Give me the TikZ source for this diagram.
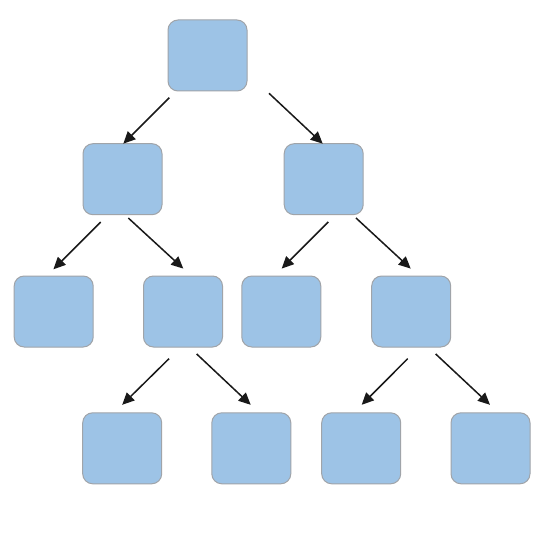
\documentclass[tikz,border=0pt]{standalone}
\usetikzlibrary{arrows.meta,calc}
\definecolor{boxfill}{HTML}{9DC3E6}
\definecolor{boxline}{HTML}{A0A4A9}
\tikzset{
  treebox/.style={draw=boxline, fill=boxfill, line width=1pt, rounded corners=10pt,
    minimum width=79pt, minimum height=71pt, inner sep=0pt, outer sep=0pt},
  link/.style={draw=black!90, line width=1.5pt, -{Triangle[length=12pt,width=11pt]}}
}
\begin{document}
\begin{tikzpicture}[x=1pt,y=-1pt]
\useasboundingbox (0,0) rectangle (545,534);
\fill[white] (0,0) rectangle (545,534);
\node[treebox] (r) at (207.5,55.5) {};
\node[treebox] (a) at (122.5,179.2) {};
\node[treebox] (b) at (323.7,179.2) {};
\node[treebox] (aa) at (53.7,311.5) {};
\node[treebox] (ab) at (183,311.5) {};
\node[treebox] (ba) at (281.3,311.5) {};
\node[treebox] (bb) at (411.2,311.5) {};
\node[treebox] (aba) at (122.2,448.3) {};
\node[treebox] (abb) at (251.3,448.3) {};
\node[treebox] (bba) at (361.2,448.3) {};
\node[treebox] (bbb) at (490.5,448.3) {};
\draw[link] ($(r.south)+(-38.2,6.7)$) -- ($(a.north)+(0.8,0)$);
\draw[link] ($(r.south)+(61.5,2.3)$) -- ($(b.north)+(-1,0)$);
\draw[link] ($(a.south)+(-21.8,7.3)$) -- ($(aa.north)+(-0.3,-6.7)$);
\draw[link] ($(a.south)+(5.8,3.3)$) -- ($(ab.north)+(0.3,-7.4)$);
\draw[link] ($(b.south)+(4.6,7.3)$) -- ($(ba.north)+(0.4,-7.4)$);
\draw[link] ($(b.south)+(32.3,3.3)$) -- ($(bb.north)+(-0.5,-7.4)$);
\draw[link] ($(ab.south)+(-14,11.7)$) -- ($(aba.north)+(0,-8)$);
\draw[link] ($(ab.south)+(13.7,7)$) -- ($(abb.north)+(-0.6,-8)$);
\draw[link] ($(bb.south)+(-3.5,11.7)$) -- ($(bba.north)+(0.5,-8)$);
\draw[link] ($(bb.south)+(24.5,7)$) -- ($(bbb.north)+(-0.5,-8)$);
\end{tikzpicture}
\end{document}
